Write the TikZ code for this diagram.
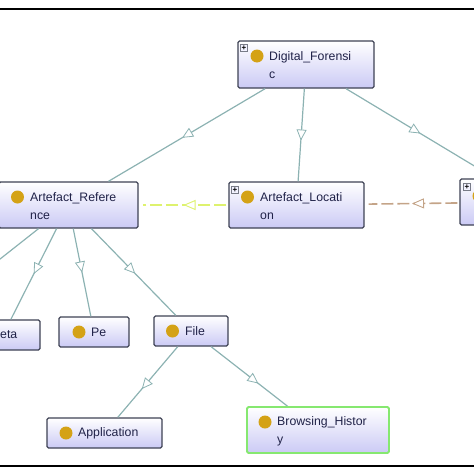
\documentclass[tikz,border=0pt]{standalone}
\usepackage{fontspec}
\setmainfont{Liberation Sans}
\usetikzlibrary{arrows.meta,decorations.markings}
\definecolor{boxline}{RGB}{62,66,84}
\definecolor{boxfill}{RGB}{203,202,245}
\definecolor{dotfill}{RGB}{212,162,22}
\definecolor{textcol}{RGB}{32,34,72}
\definecolor{isaline}{RGB}{140,178,178}
\definecolor{yellowline}{RGB}{222,242,110}
\definecolor{tanline}{RGB}{196,164,136}
\definecolor{greenline}{RGB}{134,232,112}
\begin{document}
\begin{tikzpicture}[
    x=1pt, y=-1pt,
    classbox/.style={rectangle, draw=boxline, line width=1.4pt, top color=white, bottom color=boxfill, rounded corners=1.5pt, inner sep=0pt},
    selectedbox/.style={classbox, draw=greenline, line width=1.8pt},
    classdot/.style={circle, fill=dotfill, minimum size=13pt, inner sep=0pt},
    plusbox/.style={rectangle, draw=boxline!70, fill=blue!5, minimum size=7pt, inner sep=0pt, font=\fontsize{8}{8}\selectfont\bfseries},
    classtext/.style={anchor=west, align=left, inner sep=0pt, text=textcol, font=\fontsize{12.3}{18}\selectfont},
    isa/.style={draw=isaline, line width=1.2pt, postaction={decorate}, decoration={markings, mark=at position #1 with {\arrow[line width=.8pt]{Triangle[open, length=11pt, width=10pt, fill=white]}}}},
    isa/.default=0.53,
    linkedge/.style={line width=1.6pt, dash pattern=on 12pt off 4pt, shorten <=2pt, shorten >=4pt, postaction={decorate}, decoration={markings, mark=at position 0.5 with {\arrow[line width=.9pt]{Triangle[open, length=12pt, width=10pt, fill=white]}}}},
    frameline/.style={draw=black}
]
    \useasboundingbox (0,0) rectangle (474,474);
    \clip (0,0) rectangle (474,474);

    \coordinate (topA) at (0,9);
    \coordinate (topB) at (474,9);
    \coordinate (bottomA) at (0,466);
    \coordinate (bottomB) at (474,466);
    \coordinate (hiddenEnd) at (-62,308);
    \draw [frameline, line width=2.4pt] (topA) -- (topB);
    \draw [frameline, line width=1.4pt] (bottomA) -- (bottomB);

    \node (digital) [classbox, minimum width=136pt, minimum height=47pt] at (306,64.5) {};
    \node (reference) [classbox, minimum width=139pt, minimum height=46pt] at (68.5,205) {};
    \node (location) [classbox, minimum width=135pt, minimum height=46pt] at (296.5,205) {};
    \node (rightclass) [classbox, minimum width=148pt, minimum height=46pt] at (534,202) {};
    \node (meta) [classbox, minimum width=74pt, minimum height=30pt] at (3,335) {};
    \node (pe) [classbox, minimum width=70pt, minimum height=30pt] at (94,332) {};
    \node (file) [classbox, minimum width=74pt, minimum height=30pt] at (191,331) {};
    \node (application) [classbox, minimum width=115pt, minimum height=30pt] at (104.5,433) {};
    \node (browsing) [selectedbox, minimum width=142pt, minimum height=46pt] at (318,430) {};

    \node (digitalPlus) [plusbox] at (244,48) {+};
    \node (locationPlus) [plusbox] at (235,190) {+};
    \node (rightPlus) [plusbox] at (467,187) {+};

    \node (digitalDot) [classdot] at (257,56) {};
    \node (referenceDot) [classdot] at (17.5,197) {};
    \node (locationDot) [classdot] at (247.5,197) {};
    \node (rightDot) [classdot] at (479,196) {};
    \node (peDot) [classdot] at (79,332) {};
    \node (fileDot) [classdot] at (172.5,331) {};
    \node (applicationDot) [classdot] at (66,433) {};
    \node (browsingDot) [classdot] at (265,422) {};

    \node (digitalText) [classtext] at (269,65) {Digital\_Forensi\\c};
    \node (referenceText) [classtext] at (30,206) {Artefact\_Refere\\nce};
    \node (locationText) [classtext] at (260,206) {Artefact\_Locati\\on};
    \node (metaText) [classtext] at (0,335) {eta};
    \node (peText) [classtext] at (91,332) {Pe};
    \node (fileText) [classtext] at (185,331) {File};
    \node (applicationText) [classtext] at (78,433) {Application};
    \node (browsingText) [classtext] at (277,431) {Browsing\_Histor\\y};

    \draw [isa] (digital) -- (reference);
    \draw [isa=0.56] (digital) -- (location);
    \draw [isa=0.5] (digital) -- (rightclass);
    \draw [isa] (reference) -- (hiddenEnd);
    \draw [isa=0.5] (reference) -- (meta);
    \draw [isa=0.5] (reference) -- (pe);
    \draw [isa=0.52] (reference) -- (file);
    \draw [isa=0.6] (file) -- (application);
    \draw [isa=0.62] (file) -- (browsing);

    \draw [linkedge, draw=yellowline] (location) -- (reference);
    \draw [linkedge, draw=tanline] (rightclass) -- (location);
\end{tikzpicture}
\end{document}
